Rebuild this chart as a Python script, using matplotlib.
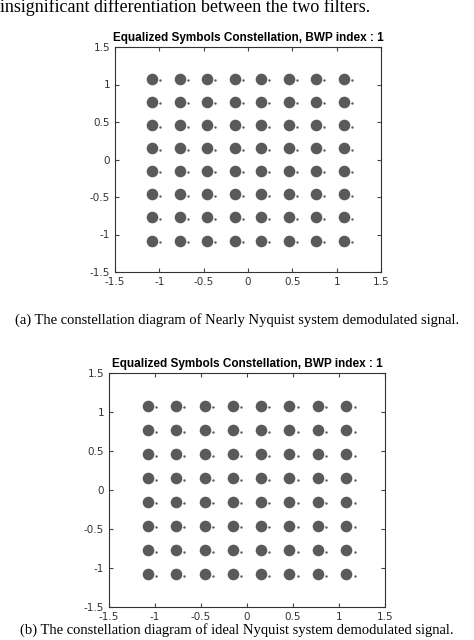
import numpy as np
import matplotlib
matplotlib.use("Agg")
import matplotlib.pyplot as plt

# 64-QAM constellation levels (normalized)
levels = [-1.08, -0.77, -0.46, -0.15, 0.15, 0.46, 0.77, 1.08]
ticks = [-1.5, -1, -0.5, 0, 0.5, 1, 1.5]
tick_labels = ["-1.5", "-1", "-0.5", "0", "0.5", "1", "1.5"]
title = "Equalized Symbols Constellation, BWP index : 1"
caption_a = "(a) The constellation diagram of Nearly Nyquist system demodulated signal."
caption_b = "(b) The constellation diagram of ideal Nyquist system demodulated signal."
top_text = "insignificant differentiation between the two filters."

W, H = 474, 640
fig = plt.figure(figsize=(W / 100, H / 100), dpi=100)


def panel(rect, caption, cap_y):
    l, t, r, b = rect
    ax = fig.add_axes([l / W, 1 - b / H, (r - l) / W, (b - t) / H])
    xs, ys = np.meshgrid(levels, levels)
    ax.scatter(xs.ravel(), ys.ravel(), s=70, color="#5a5a5a", marker="o", linewidths=0)
    ax.scatter(xs.ravel() + 0.09, ys.ravel() - 0.02, s=3, color="#5a5a5a", linewidths=0)
    ax.set_xlim(-1.5, 1.5)
    ax.set_ylim(-1.5, 1.5)
    ax.set_xticks(ticks)
    ax.set_yticks(ticks)
    ax.set_xticklabels(tick_labels)
    ax.set_yticklabels(tick_labels)
    ax.tick_params(direction="in", top=True, right=True, length=3, labelsize=7.5,
                   labelcolor="#333333", color="#444444")
    for s in ax.spines.values():
        s.set_linewidth(0.8)
        s.set_color("#333333")
    ax.set_title(title, fontsize=8.5, fontweight="bold", family="Liberation Sans", pad=4)
    fig.text(0.5, 1 - cap_y / H, caption, ha="center", va="center",
             family="Liberation Serif", fontsize=10.5)


panel((115, 47, 381, 272), caption_a, 320)
panel((109, 373, 385, 607), caption_b, 630)
fig.text(0.0, 1 - 7 / H, top_text, ha="left", va="center", family="Liberation Serif", fontsize=13)
fig.savefig("out.png", dpi=100)
